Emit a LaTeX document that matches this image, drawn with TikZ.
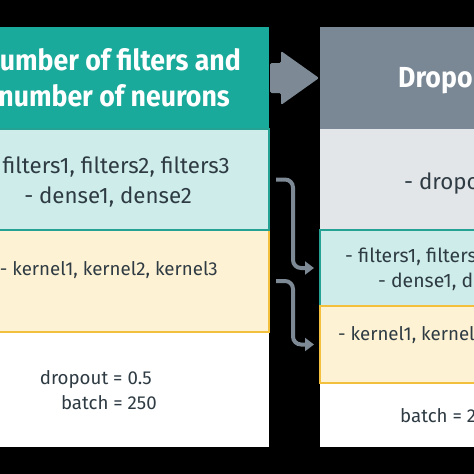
\documentclass[tikz,border=0pt]{standalone}
\usepackage{fontspec}
\usepackage{graphicx}
\setmainfont{Fira Sans}
\usetikzlibrary{arrows.meta,calc}
\definecolor{tealH}{HTML}{1AAA9B}
\definecolor{tealL}{HTML}{CEEDEA}
\definecolor{tealB}{HTML}{25A293}
\definecolor{yelL}{HTML}{FEF2D4}
\definecolor{yelB}{HTML}{F3C03E}
\definecolor{grayH}{HTML}{7A8794}
\definecolor{grayL}{HTML}{E3E6E9}
\definecolor{arrG}{HTML}{7D8A96}
\definecolor{txt}{HTML}{2E3B43}
\newcommand{\hx}[1]{\scalebox{0.92}[1]{#1}}
\tikzset{
  sec/.style={rectangle, inner sep=0pt, outer sep=0pt, anchor=north west, minimum width=318pt},
  hdr/.style={inner sep=0pt, text=white, font=\bfseries\fontsize{29}{34}\selectfont},
  bigbody/.style={inner sep=0pt, text=txt, font=\fontsize{22.3}{26}\selectfont},
  midbody/.style={inner sep=0pt, text=txt, font=\fontsize{19.4}{23}\selectfont},
  body/.style={inner sep=0pt, text=txt, font=\fontsize{18.7}{22}\selectfont},
  conn/.style={draw=arrG, line width=4pt, rounded corners=8pt, -{Triangle[length=9pt,width=13pt]}},
}
\begin{document}
\begin{tikzpicture}[x=1pt,y=-1pt]
\useasboundingbox (0,0) rectangle (474,474);
\fill[black] (0,0) rectangle (474,474);
\begin{scope}
\clip (0,0) rectangle (474,474);
% left column
\node[sec, fill=tealH, minimum height=102pt] (LH) at (-49,27) {};
\node[sec, fill=yelL, draw=yelB, line width=1.5pt, minimum height=102pt] (L3) at (-49,230) {};
\node[sec, fill=tealL, draw=tealB, line width=1.5pt, minimum height=101pt] (L2) at (-49,129) {};
\node[sec, fill=white, minimum height=114pt] (L4) at (-49,333) {};
% right column
\node[sec, fill=grayH, minimum height=102pt] (RH) at (320,27) {};
\node[sec, fill=grayL, minimum height=101pt] (R2) at (320,129) {};
\node[sec, fill=tealL, draw=tealB, line width=1.5pt, minimum height=76pt] (R3) at (320,230) {};
\node[sec, fill=yelL, draw=yelB, line width=1.5pt, minimum height=77pt] (R4) at (320,306) {};
\node[sec, fill=white, minimum height=63pt] (R5) at (320,384) {};
% texts left
\node[hdr, anchor=base east] (t1) at (241,70) {\hx{Number of filters and}};
\node[hdr, anchor=base east] (t2) at (230,106) {\hx{number of neurons}};
\node[bigbody, anchor=base east] (t3) at (230,173) {- filters1, filters2, filters3};
\node[bigbody, anchor=base east] (t4) at (192,203) {- dense1, dense2};
\node[body, anchor=base east] (t5) at (218,275) {- kernel1, kernel2, kernel3};
\node[body, anchor=base east] (t6) at (152,384) {dropout = 0.5};
\node[body, anchor=base east] (t7) at (157,409) {batch = 250};
% texts right
\node[hdr, anchor=base west] (t8) at (398,87) {\hx{Dropout}};
\node[bigbody, anchor=base west] (t9) at (404,189) {- dropout};
\node[midbody, anchor=base west] (t10) at (345,262) {- filters1, filters2, filters3};
\node[midbody, anchor=base west] (t11) at (378,287) {- dense1, dense2};
\node[body, anchor=base west] (t12) at (338,340) {- kernel1, kernel2, kernel3};
\node[body, anchor=base west] (t13) at (400,422) {batch = 250};
% big arrow
\fill[arrG, rounded corners=1.5pt] ($(LH.east)+(1,-15)$) -- ($(LH.east)+(12,-15)$) -- ($(LH.east)+(12,-27)$)
  -- ($(RH.west)+(-1,0)$) -- ($(LH.east)+(12,27)$) -- ($(LH.east)+(12,15)$) -- ($(LH.east)+(1,15)$) -- cycle;
% bent arrows
\draw[conn] ([xshift=7pt]L2.east) -- ++(17,0) |- ([xshift=-6pt]R3.west);
\draw[conn] ([xshift=7pt]L3.east) -- ++(17,0) |- ([xshift=-6pt]R4.west);
\end{scope}
\end{tikzpicture}
\end{document}
